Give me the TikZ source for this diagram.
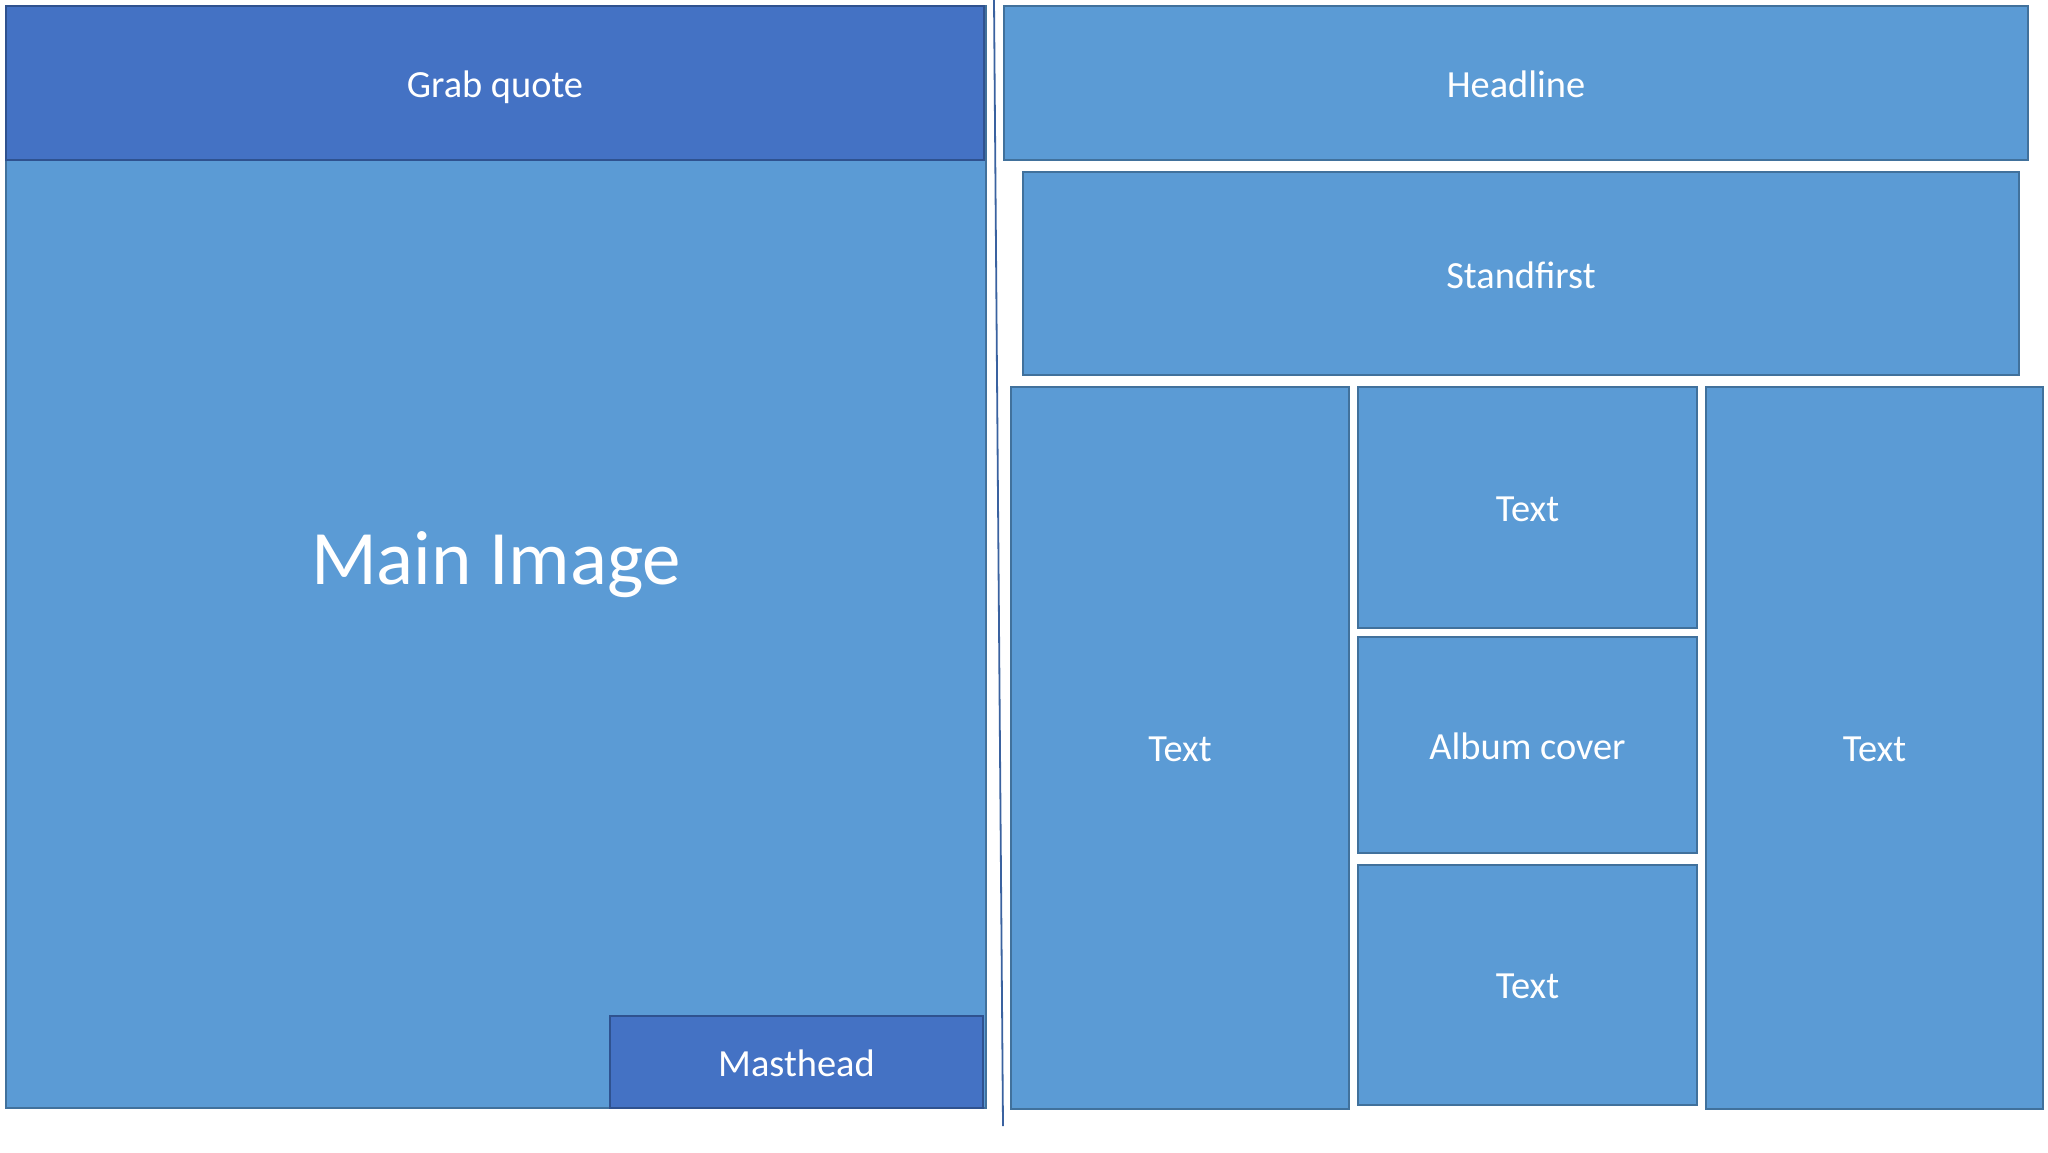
\documentclass[tikz,border=0pt]{standalone}
\usepackage{fontspec}
\setmainfont{Carlito}
\definecolor{lightfill}{HTML}{5B9BD5}
\definecolor{lightline}{HTML}{41719C}
\definecolor{darkfill}{HTML}{4472C4}
\definecolor{darkline}{HTML}{2F528F}
\definecolor{divline}{HTML}{3A62A0}
\newcommand{\lowlbl}[2]{\raisebox{-#1pt}[\height][\depth]{#2}}
\tikzset{
  box/.style={draw=lightline, fill=lightfill, line width=1.6pt, inner sep=0pt, outer sep=0pt,
    anchor=north west, text=white, font=\fontsize{38.4}{46}\selectfont},
  darkbox/.style={box, draw=darkline, fill=darkfill},
}
\begin{document}
\begin{tikzpicture}[x=1pt,y=-1pt]
\useasboundingbox (0,0) rectangle (2048,1152);
% Main image
\node[box, minimum width=980pt, minimum height=1102pt, font=\fontsize{77}{90}\selectfont] (main) at (6,6) {\lowlbl{8}{Main Image}};
\node[darkbox, minimum width=978pt, minimum height=154pt] (grab) at (6,6) {\lowlbl{4}{Grab quote}};
\node[darkbox, minimum width=373pt, minimum height=92pt] (mast) at (610,1016) {\lowlbl{1.5}{Masthead}};
% divider
\coordinate (dtop) at (994,0);
\coordinate (dbot) at (1003,1126);
\draw[divline, line width=1.8pt] (dtop) -- (dbot);
% right side
\node[box, minimum width=1024pt, minimum height=154pt] (head) at (1004,6) {\lowlbl{1.5}{Headline}};
\node[box, minimum width=996pt, minimum height=203pt] (stand) at (1023,172) {\lowlbl{1.5}{Standfirst}};
\node[box, minimum width=338pt, minimum height=722pt] (textl) at (1011,387) {\lowlbl{1.5}{Text}};
\node[box, minimum width=339pt, minimum height=241pt] (textm) at (1358,387) {\lowlbl{1.5}{Text}};
\node[box, minimum width=339pt, minimum height=216pt] (album) at (1358,637) {\lowlbl{1.5}{Album cover}};
\node[box, minimum width=339pt, minimum height=240pt] (textb) at (1358,865) {\lowlbl{1.5}{Text}};
\node[box, minimum width=337pt, minimum height=722pt] (textr) at (1706,387) {\lowlbl{1.5}{Text}};
\end{tikzpicture}
\end{document}
